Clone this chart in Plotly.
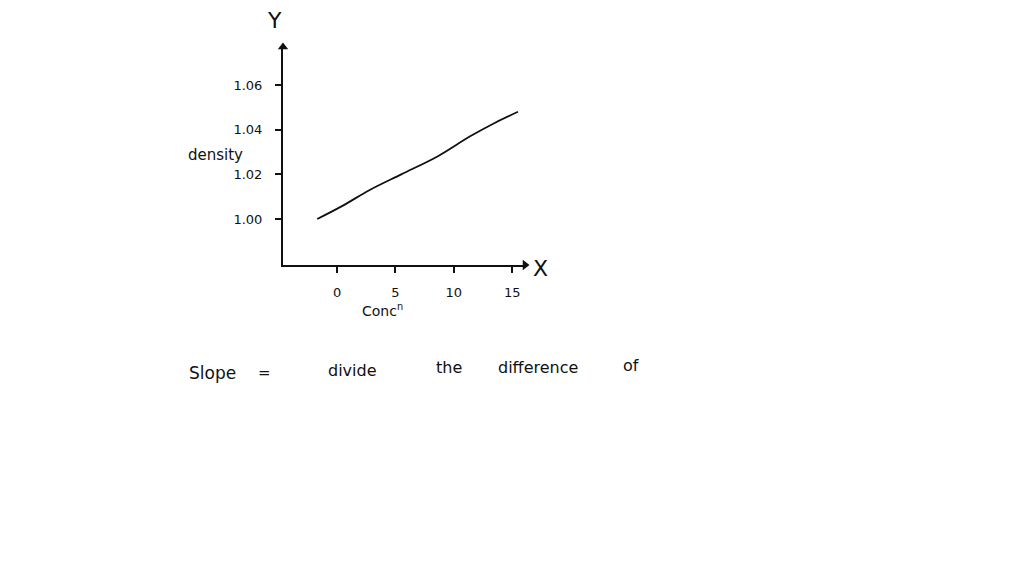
import plotly.graph_objects as go

# density vs concentration
conc = [-1.7, 0.5, 2.8, 5.5, 8.6, 11.4, 13.5, 15.5]
density = [1.000, 1.006, 1.013, 1.020, 1.028, 1.037, 1.043, 1.048]

x_ticks = [0, 5, 10, 15]
x_tick_text = ['0', '5', '10', '15']
y_ticks = [1.00, 1.02, 1.04, 1.06]
y_tick_text = ['1.00', '1.02', '1.04', '1.06']

W, H = 1024, 576
PAGE_OFFSET = 8  # default body margin of the html page
INK = '#111111'
FONT = 'DejaVu Sans'
X_RANGE = [-4.63, 16.1]
Y_RANGE = [0.9794, 1.077]


def px(x, y):
    # pixel position in the window -> paper coordinates (margins are zero)
    return (x - PAGE_OFFSET) / W, 1 - (y - PAGE_OFFSET) / H


x0, y_top = px(283, 47)
x_end, y0 = px(525, 265)

fig = go.Figure(go.Scatter(x=conc, y=density, mode='lines',
                           line=dict(color=INK, width=1.8, shape='spline'),
                           hoverinfo='skip'))

# arrow heads at the ends of both axes
fig.add_trace(go.Scatter(x=[X_RANGE[0], X_RANGE[1]], y=[Y_RANGE[1], Y_RANGE[0]],
                         mode='markers', cliponaxis=False, hoverinfo='skip',
                         marker=dict(symbol=['triangle-up', 'triangle-right'],
                                     size=9, color=INK)))

axis_common = dict(showgrid=False, zeroline=False, showline=True,
                   linecolor=INK, linewidth=2, ticks='outside', ticklen=6,
                   tickwidth=1.5, tickcolor=INK,
                   tickfont=dict(family=FONT, size=13, color=INK))

fig.update_xaxes(domain=[x0, x_end], range=X_RANGE,
                 tickvals=x_ticks, ticktext=x_tick_text,
                 ticklabelstandoff=8, **axis_common)
fig.update_yaxes(domain=[y0, y_top], range=Y_RANGE,
                 tickvals=y_ticks, ticktext=y_tick_text,
                 ticklabelstandoff=10, **axis_common)

notes = []


def label(text, x, y, size, anchor='center'):
    lx, ly = px(x, y)
    notes.append(dict(x=lx, y=ly, xref='paper', yref='paper', text=text,
                      showarrow=False, xanchor=anchor, yanchor='middle',
                      font=dict(family=FONT, size=size, color=INK)))


label('Y', 274, 20, 22)
label('X', 540, 268, 22)
label('density', 215, 155, 15)
label('Conc<sup>n</sup>', 382, 310, 14)
label('Slope', 212, 373, 17)
label('=', 264, 373, 15)
label('divide', 352, 370, 16)
label('the', 449, 367, 16)
label('difference', 538, 367, 16)
label('of', 631, 365, 16)

fig.update_layout(width=W, height=H, margin=dict(l=0, r=0, t=0, b=0),
                  paper_bgcolor='white', plot_bgcolor='white',
                  showlegend=False, annotations=notes)

fig.write_html("out.html")
